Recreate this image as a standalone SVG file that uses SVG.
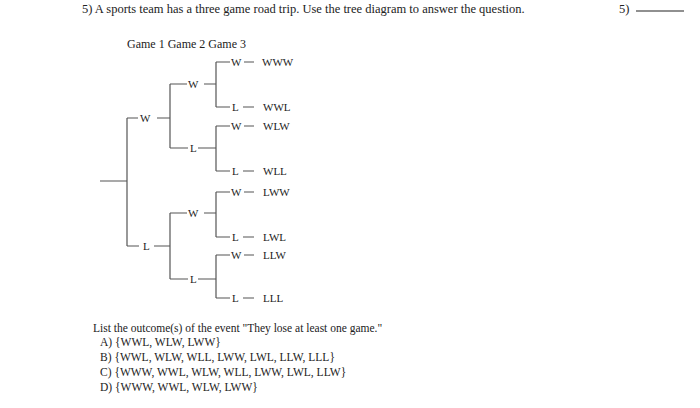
<svg xmlns="http://www.w3.org/2000/svg" width="700" height="408" viewBox="0 0 700 408">
<style>
text{font-family:"Liberation Serif",serif;font-size:11.5px;fill:#222}
.q{font-size:12.5px}
.l{font-size:11px}
line,path{stroke:#555;stroke-width:1.2;fill:none}
</style>
<rect width="700" height="408" fill="#fff"/>
<text class="q" x="82" y="13">5) A sports team has a three game road trip. Use the tree diagram to answer the question.</text>
<text class="q" x="619" y="13">5)</text>
<line x1="636" y1="11" x2="684" y2="11" style="stroke:#222"/>
<text x="127" y="48" style="font-size:12px">Game 1  Game 2  Game 3</text>
<g id="connectors">
<path d="M100 181H127M127 118V246"/>
<path d="M127 118H138M157 118H170M170 84V148"/>
<path d="M127 246H139M154 246H170M170 213V279"/>
<path d="M170 84H187M204 84H216M216 62V107"/>
<path d="M170 148H188M198 148H216M216 126V171"/>
<path d="M170 213H187M204 213H216M216 192V237"/>
<path d="M170 279H188M198 279H216M216 255V298"/>
<path d="M216 62H230M244 62H254M216 107H230M243 107H254M216 126H230M244 126H254M216 171H230M243 171H254"/>
<path d="M216 192H230M244 192H254M216 237H230M243 237H254M216 255H230M244 255H254M216 298H230M243 298H254"/>
</g>
<g id="g1">
<text class="l" x="140" y="122">W</text>
<text class="l" x="143" y="250">L</text>
</g>
<g id="g2">
<text class="l" x="188" y="88">W</text>
<text class="l" x="190" y="152">L</text>
<text class="l" x="188" y="217">W</text>
<text class="l" x="190" y="283">L</text>
</g>
<g id="g3">
<text class="l" x="231" y="66">W</text><text class="l" x="262" y="66">WWW</text>
<text class="l" x="232" y="111">L</text><text class="l" x="263" y="111">WWL</text>
<text class="l" x="231" y="130">W</text><text class="l" x="263" y="130">WLW</text>
<text class="l" x="232" y="175">L</text><text class="l" x="263" y="175">WLL</text>
<text class="l" x="231" y="196">W</text><text class="l" x="263" y="196">LWW</text>
<text class="l" x="232" y="241">L</text><text class="l" x="263" y="241">LWL</text>
<text class="l" x="231" y="259">W</text><text class="l" x="263" y="259">LLW</text>
<text class="l" x="232" y="302">L</text><text class="l" x="263" y="302">LLL</text>
</g>
<text x="93" y="332">List the outcome(s) of the event "They lose at least one game."</text>
<text x="100" y="346">A) {WWL, WLW, LWW}</text>
<text x="100" y="361">B) {WWL, WLW, WLL, LWW, LWL, LLW, LLL}</text>
<text x="100" y="376">C) {WWW, WWL, WLW, WLL, LWW, LWL, LLW}</text>
<text x="100" y="391">D) {WWW, WWL, WLW, LWW}</text>
</svg>
